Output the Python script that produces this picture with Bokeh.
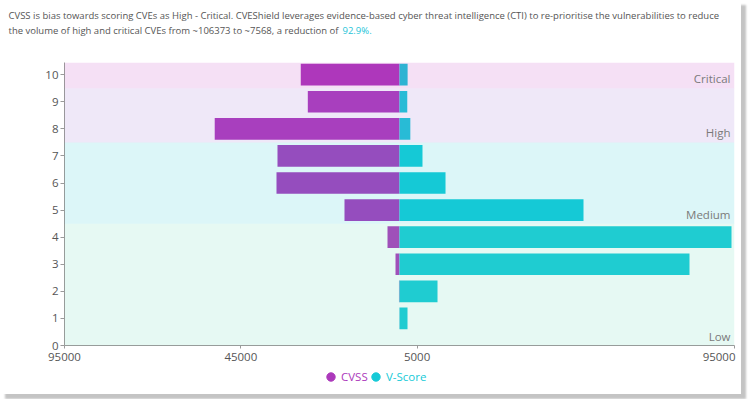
from bokeh.plotting import figure
from bokeh.layouts import column
from bokeh.models import (Range1d, FixedTicker, CustomJSTickFormatter, BoxAnnotation,
                          Label, Legend, LegendItem, ColumnDataSource)
from bokeh.embed import file_html
from bokeh.resources import INLINE

# ---- data ----
levels = [1, 2, 3, 4, 5, 6, 7, 8, 9, 10]
cvss = [30, 150, 1130, 3400, 15600, 34880, 34600, 52400, 26000, 28000]
vscore = [2270, 10780, 82240, 94150, 52180, 13050, 6520, 3070, 2200, 2300]
x_ticks = [-95000, -45000, 5000, 95000]
y_ticks = [0, 1, 2, 3, 4, 5, 6, 7, 8, 9, 10]
bands = [("Critical", 9.5, None), ("High", 7.5, 9.5), ("Medium", 4.5, 7.5), ("Low", None, 4.5)]
band_colors = ["#bc30bc", "#9466d0", "#16c3d0", "#58d7af"]
series_names = ["CVSS", "V-Score"]
series_colors = ["#ac39bb", "#16cad7"]
line1 = ("CVSS is bias towards scoring CVEs as High - Critical. CVEShield leverages evidence-based "
         "cyber threat intelligence (CTI) to re-prioritise the vulnerabilities to reduce")
line2 = "the volume of high and critical CVEs from ~106373 to ~7568, a reduction of "
highlight = "92.9%."

FONT = "Open Sans"
W = 741
TITLE_H = 48
LEG_H = 28
XMIN, XMAX, YMIN, YMAX = -95000, 95000, 0, 10.45

# ---- title strip ----
pt = figure(output_backend="svg", toolbar_location=None, width=W, height=TITLE_H,
            x_range=Range1d(0, W), y_range=Range1d(0, TITLE_H),
            x_axis_type=None, y_axis_type=None, min_border=0)
pt.frame_align = False
pt.outline_line_color = None
pt.grid.visible = False
for txt, x, y, col in [(line1, 8, TITLE_H - 15, "#555555"),
                       (line2, 8, TITLE_H - 29.5, "#555555"),
                       (highlight, 342, TITLE_H - 29.5, "#1ec4d8")]:
    pt.add_layout(Label(x=x, y=y, text=txt, text_align="left", text_baseline="middle",
                        text_font=FONT, text_font_size="9.5px", text_color=col))

# ---- main chart ----
p = figure(output_backend="svg", toolbar_location=None,
           x_range=Range1d(XMIN, XMAX), y_range=Range1d(YMIN, YMAX),
           frame_width=670, frame_height=283)
p.frame_align = False
p.min_border_left = 64
p.min_border_top = 14
p.min_border_right = 7
p.min_border_bottom = 18
p.outline_line_color = None
p.xgrid.visible = False
p.ygrid.visible = False

src = ColumnDataSource(dict(y=levels, left=[-v for v in cvss], zero=[0] * len(levels), right=vscore))
p.hbar(y="y", left="left", right="zero", height=0.8, source=src,
       fill_color=series_colors[0], line_color=None)
p.hbar(y="y", left="zero", right="right", height=0.8, source=src,
       fill_color=series_colors[1], line_color=None)

# severity bands drawn over the bars
for (name, lo, hi), col in zip(bands, band_colors):
    p.add_layout(BoxAnnotation(bottom=lo, top=hi, fill_color=col, fill_alpha=0.15, line_alpha=0))
for (name, lo, hi), col in zip(bands, band_colors):
    p.add_layout(Label(x=XMAX, y=lo if lo is not None else YMIN, text=name, x_offset=-4, y_offset=2,
                       text_align="right", text_baseline="bottom", text_font=FONT,
                       text_font_size="11.5px", text_color="#7a7a7a"))

p.xaxis.ticker = FixedTicker(ticks=x_ticks)
# the last label sits left of its tick so that it stays inside the card
p.xaxis.formatter = CustomJSTickFormatter(
    code="return tick == 95000 ? '95000' + '\\u00a0'.repeat(2) : String(Math.abs(tick));")
p.yaxis.ticker = FixedTicker(ticks=y_ticks)
for ax in (p.xaxis[0], p.yaxis[0]):
    ax.axis_line_color = "#9a9a9a"
    ax.major_tick_line_color = "#9a9a9a"
    ax.minor_tick_line_color = None
    ax.major_tick_in = 0
    ax.major_label_text_font = FONT
    ax.major_label_text_font_size = "11.5px"
    ax.major_label_text_color = "#555555"
p.xaxis.major_tick_out = 3
p.xaxis.major_label_standoff = 0
p.yaxis.major_tick_out = 4
p.yaxis.major_label_standoff = 2

# ---- legend strip ----
pl = figure(output_backend="svg", toolbar_location=None, width=W, height=LEG_H,
            x_range=Range1d(0, 1), y_range=Range1d(0, 1),
            x_axis_type=None, y_axis_type=None, min_border=0)
pl.frame_align = False
pl.outline_line_color = None
pl.grid.visible = False
for name, col, lx in zip(series_names, series_colors, [320, 365]):
    dummy = ColumnDataSource(dict(x=[float("nan")], y=[float("nan")]))
    r = pl.scatter(x="x", y="y", source=dummy, marker="circle", size=8,
                   fill_color=col, line_color=col)
    lg = Legend(items=[LegendItem(label=name, renderers=[r])], location=(lx, 7),
                orientation="horizontal", padding=0, margin=0, spacing=0,
                glyph_width=21, glyph_height=21, label_height=21, label_standoff=-3,
                label_text_font=FONT, label_text_font_size="11.5px", label_text_color=col,
                background_fill_alpha=0, border_line_color=None)
    pl.add_layout(lg, "center")

layout = column(pt, p, pl, spacing=0)
layout.styles = {"box-shadow": "5px 5px 2px #c4c4c4", "background-color": "white"}

open("out.html", "w").write(file_html(layout, INLINE))
